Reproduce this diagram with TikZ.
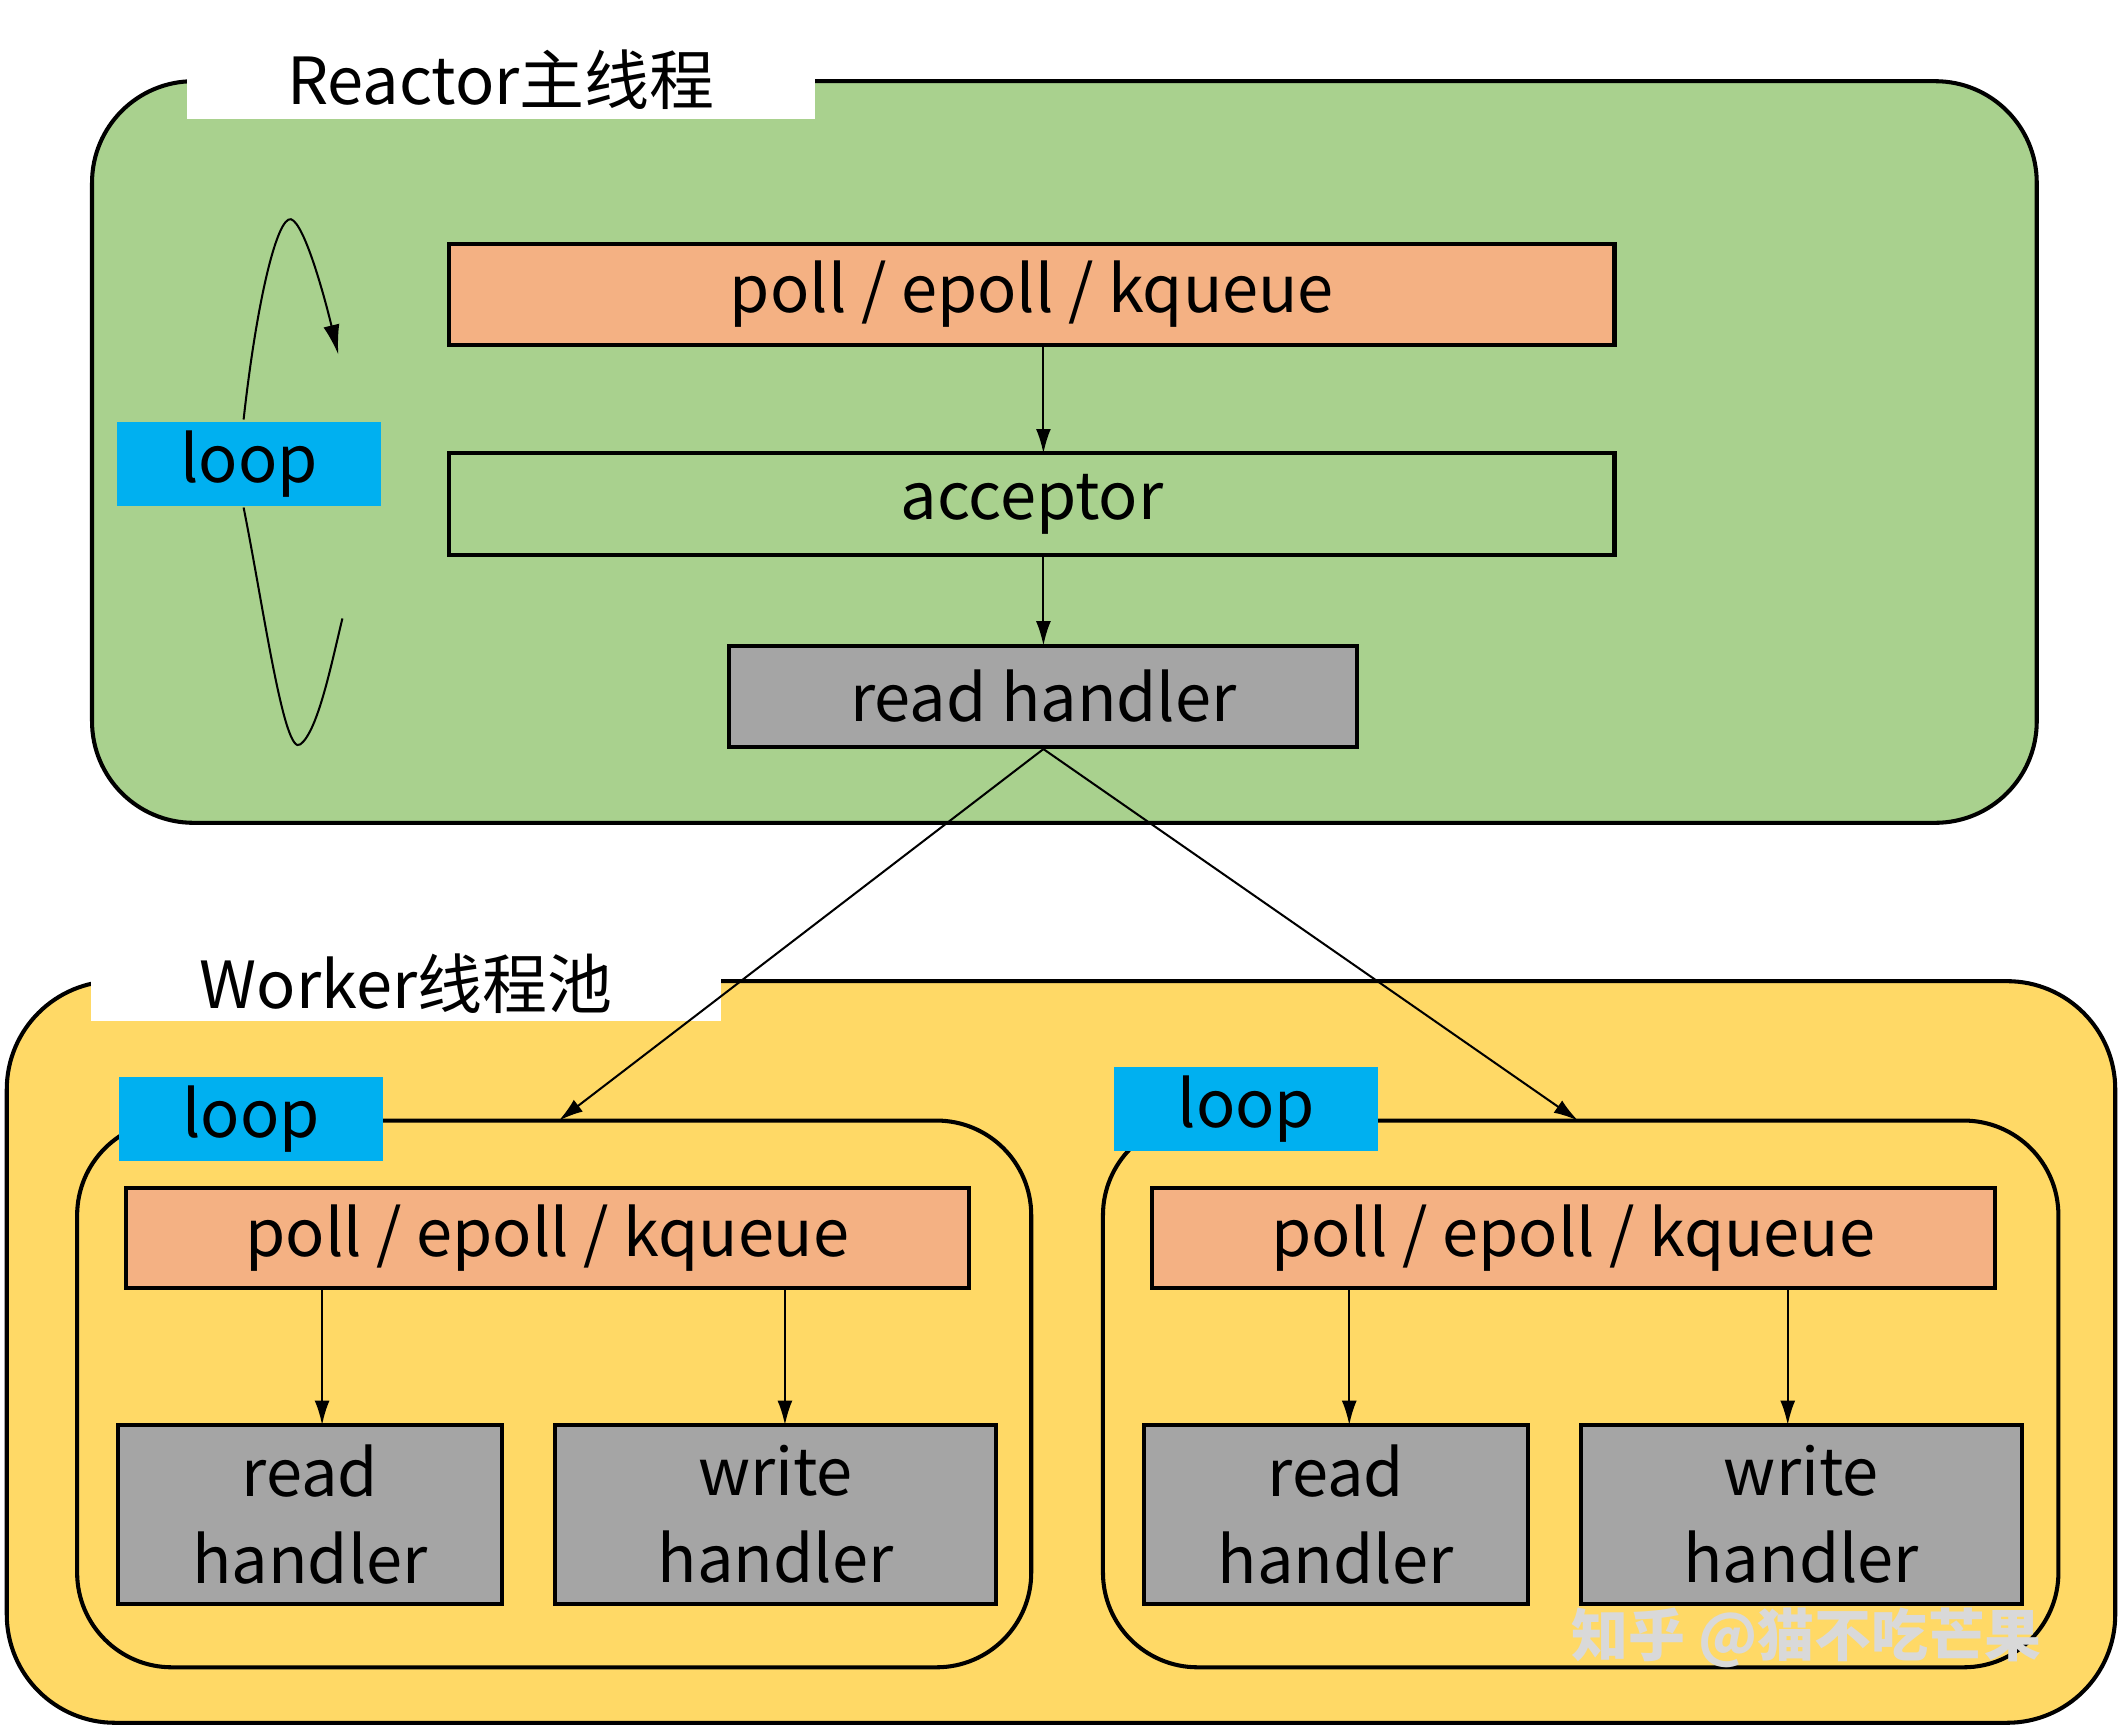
\documentclass[tikz,border=0pt]{standalone}
\usepackage{fontspec}
\setmainfont{Noto Sans CJK SC}
\usetikzlibrary{arrows.meta}
\definecolor{grn}{HTML}{A9D18E}
\definecolor{yel}{HTML}{FFD966}
\definecolor{org}{HTML}{F4B183}
\definecolor{gry}{HTML}{A5A5A5}
\definecolor{blu}{HTML}{00B0F0}
\begin{document}
\begin{tikzpicture}[x=1pt,y=-1pt,
  box/.style={draw=black,line width=3pt,inner sep=0pt,align=center,font=\fontsize{48}{64}\selectfont},
  lbl/.style={fill=white,inner sep=0pt,font=\fontsize{48}{58}\selectfont},
  lp/.style={fill=blu,inner sep=0pt,font=\fontsize{48}{58}\selectfont,minimum width=195pt,minimum height=62pt},
  con/.style={line width=1.5pt,-{Latex[length=18pt,width=11pt]}},
  ln/.style={line width=1.5pt}]
\useasboundingbox (0,0) rectangle (1568,1276);
% green
\draw[fill=grn,line width=3pt,rounded corners=75pt] (68,60) rectangle (1505,608);
\node[lbl,minimum width=464pt,minimum height=58pt] (rl) at (370,59) {Reactor主线程};
\node[box,fill=org,minimum width=861pt,minimum height=75pt] (p0) at (762.5,217.5) {poll / epoll / kqueue};
\node[box,minimum width=861pt,minimum height=75pt] (ac) at (762.5,372.5) {acceptor};
\node[box,fill=gry,minimum width=464pt,minimum height=75pt] (rh) at (771,514.5) {read handler};
\node[lp] (l0) at (184,343) {loop};
\draw[con] (771,255) -- (771,335);
\draw[con] (771,410) -- (771,477);
\draw[ln,-{Latex[length=22pt,width=12pt]}] (180,310) .. controls (190,220) and (205,160) .. (215,162) .. controls (225,165) and (240,220) .. (250,262);
\draw[ln] (180,375) .. controls (195,450) and (210,560) .. (222,550) .. controls (235,540) and (245,490) .. (253,457);
% yellow
\draw[fill=yel,line width=3pt,rounded corners=80pt] (5,725) rectangle (1563,1273);
\node[lbl,minimum width=465pt,minimum height=55pt] (wl) at (300,727) {Worker线程池};
% left inner
\draw[line width=3pt,rounded corners=70pt] (57,828) rectangle (762,1232);
\node[lp] (l1) at (185.5,827) {loop};
\node[box,fill=org,minimum width=623pt,minimum height=74pt] (p1) at (404.5,915) {poll / epoll / kqueue};
\node[box,fill=gry,minimum width=284pt,minimum height=132pt] (r1) at (229,1119) {read\\handler};
\node[box,fill=gry,minimum width=326pt,minimum height=132pt] (w1) at (573,1119) {write\\handler};
\draw[con] (238,952) -- (238,1053);
\draw[con] (580,952) -- (580,1053);
% right inner
\draw[line width=3pt,rounded corners=70pt] (815,828) rectangle (1521,1232);
\node[lp] (l2) at (921,819.5) {loop};
\node[box,fill=org,minimum width=623pt,minimum height=74pt] (p2) at (1162.5,915) {poll / epoll / kqueue};
\node[box,fill=gry,minimum width=284pt,minimum height=132pt] (r2) at (987,1119) {read\\handler};
\node[box,fill=gry,minimum width=326pt,minimum height=132pt] (w2) at (1331,1119) {write\\handler};
\draw[con] (997,952) -- (997,1053);
\draw[con] (1321,952) -- (1321,1053);
% fan out
\coordinate (t1) at (413,828);
\coordinate (t2) at (1166,828);
\draw[con] (rh.south) -- (t1);
\draw[con] (rh.south) -- (t2);
% watermark
\node[text=white!85!black,font=\fontsize{42}{50}\selectfont\bfseries,inner sep=0pt] (wm) at (1335,1210) {知乎 @猫不吃芒果};
\end{tikzpicture}
\end{document}
